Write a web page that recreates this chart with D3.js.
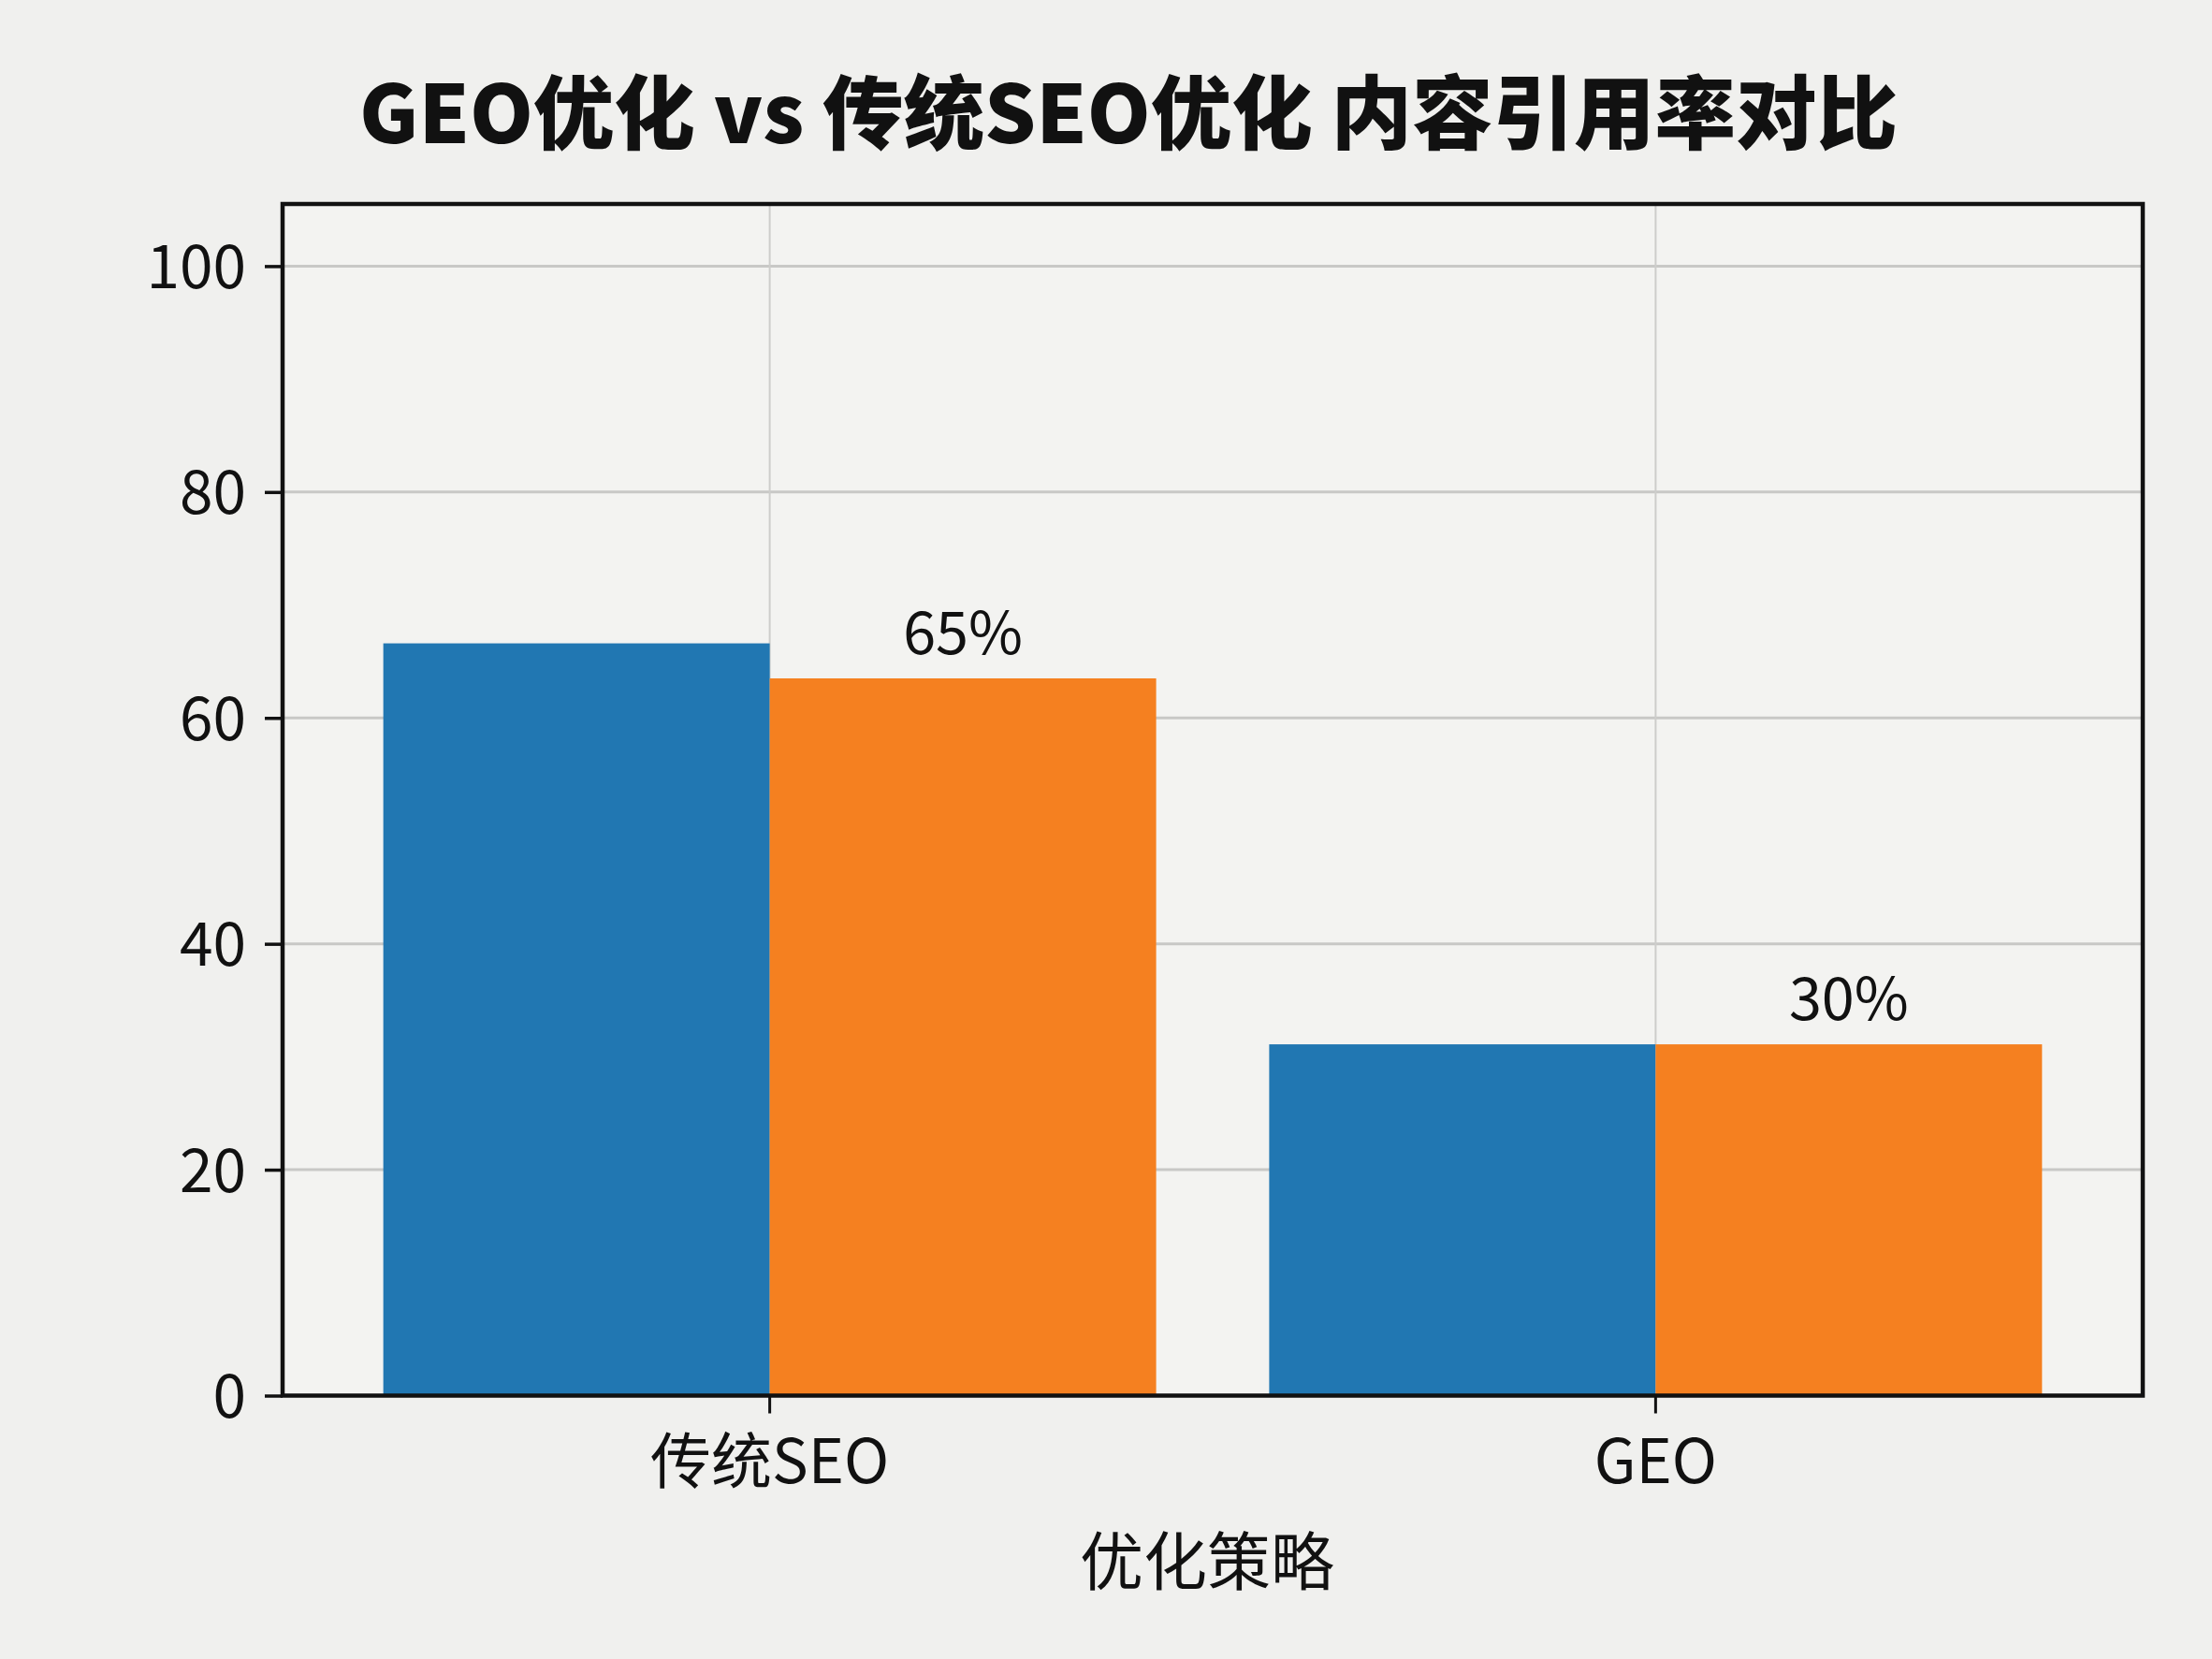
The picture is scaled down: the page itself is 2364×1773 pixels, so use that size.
<!DOCTYPE html>
<html>
<head>
<meta charset="utf-8">
<script src="https://cdn.jsdelivr.net/npm/d3@7"></script>
<style>
  body { margin: 0; background: #f0f0ee; }
  svg { display: block; }
  text { font-family: "Noto Sans CJK SC", "Noto Sans", sans-serif; fill: #111; }
</style>
</head>
<body>
<script>
// data
var categories = ["传统SEO", "GEO"];
var seriesBlue = [66.6, 31.1];
var seriesOrange = [63.5, 31.1];
var orangeLabels = ["65%", "30%"];
var yTicks = [0, 20, 40, 60, 80, 100];

var w = 2364;
var h = 1773;
var plotLeft = 302, plotRight = 2290, plotTop = 218, plotBottom = 1491.5;

var svg = d3.select("body")
    .append("svg")
    .attr("width", w)
    .attr("height", h);

svg.append("rect")
   .attr("width", w)
   .attr("height", h)
   .attr("fill", "#f0f0ee");

var x = d3.scaleBand()
    .domain(categories)
    .range([plotLeft, plotRight])
    .paddingInner(0.1276)
    .paddingOuter(0.1137);

var y = d3.scaleLinear()
    .domain([0, 105.5])
    .range([plotBottom, plotTop]);

var half = x.bandwidth() / 2;

// plot background
svg.append("rect")
   .attr("x", plotLeft)
   .attr("y", plotTop)
   .attr("width", plotRight - plotLeft)
   .attr("height", plotBottom - plotTop)
   .attr("fill", "#f3f3f1");

// grid
svg.selectAll("line.hgrid")
   .data(yTicks)
   .enter()
   .append("line")
   .attr("class", "hgrid")
   .attr("x1", plotLeft)
   .attr("x2", plotRight)
   .attr("y1", function(d) { return y(d); })
   .attr("y2", function(d) { return y(d); })
   .attr("stroke", "#c8c8c6")
   .attr("stroke-width", 3);

svg.selectAll("line.vgrid")
   .data(categories)
   .enter()
   .append("line")
   .attr("class", "vgrid")
   .attr("x1", function(d) { return x(d) + half; })
   .attr("x2", function(d) { return x(d) + half; })
   .attr("y1", plotTop)
   .attr("y2", plotBottom)
   .attr("stroke", "#cdcdcb")
   .attr("stroke-width", 2);

// bars
svg.selectAll("rect.blue")
   .data(seriesBlue)
   .enter()
   .append("rect")
   .attr("class", "blue")
   .attr("x", function(d, i) { return x(categories[i]); })
   .attr("y", function(d) { return y(d); })
   .attr("width", half)
   .attr("height", function(d) { return plotBottom - y(d); })
   .attr("fill", "#2177b2");

svg.selectAll("rect.orange")
   .data(seriesOrange)
   .enter()
   .append("rect")
   .attr("class", "orange")
   .attr("x", function(d, i) { return x(categories[i]) + half; })
   .attr("y", function(d) { return y(d); })
   .attr("width", half)
   .attr("height", function(d) { return plotBottom - y(d); })
   .attr("fill", "#f58020");

svg.selectAll("text.val")
   .data(seriesOrange)
   .enter()
   .append("text")
   .attr("class", "val")
   .text(function(d, i) { return orangeLabels[i]; })
   .attr("x", function(d, i) { return x(categories[i]) + half * 1.5; })
   .attr("y", function(d) { return y(d) - 26; })
   .attr("font-size", "63px")
   .attr("text-anchor", "middle");

// axes
var yAxis = svg.append("g")
    .attr("transform", "translate(" + plotLeft + ",0)")
    .call(d3.axisLeft(y).tickValues(yTicks).tickSize(19).tickPadding(20));
yAxis.select(".domain").remove();
yAxis.selectAll("text").attr("font-size", "64px").attr("dy", "0.36em");
yAxis.selectAll(".tick line").attr("stroke", "#111").attr("stroke-width", 3.5);

var xAxis = svg.append("g")
    .attr("transform", "translate(0," + plotBottom + ")")
    .call(d3.axisBottom(x).tickSize(19).tickPadding(28));
xAxis.select(".domain").remove();
xAxis.selectAll("text").attr("font-size", "65px").attr("dy", "0.71em");
xAxis.selectAll(".tick line").attr("stroke", "#111").attr("stroke-width", 3);

// frame
svg.append("rect")
   .attr("x", plotLeft)
   .attr("y", plotTop)
   .attr("width", plotRight - plotLeft)
   .attr("height", plotBottom - plotTop)
   .attr("fill", "none")
   .attr("stroke", "#111")
   .attr("stroke-width", 4.5);

// title and axis label
svg.append("text")
   .text("GEO优化 vs 传统SEO优化 内容引用率对比")
   .attr("x", 1206)
   .attr("y", 153)
   .attr("font-size", "86px")
   .attr("font-weight", 900)
   .attr("text-anchor", "middle")
   .attr("textLength", 1644)
   .attr("lengthAdjust", "spacingAndGlyphs");

svg.append("text")
   .text("优化策略")
   .attr("x", 1290)
   .attr("y", 1694)
   .attr("font-size", "68px")
   .attr("text-anchor", "middle");
</script>
</body>
</html>
